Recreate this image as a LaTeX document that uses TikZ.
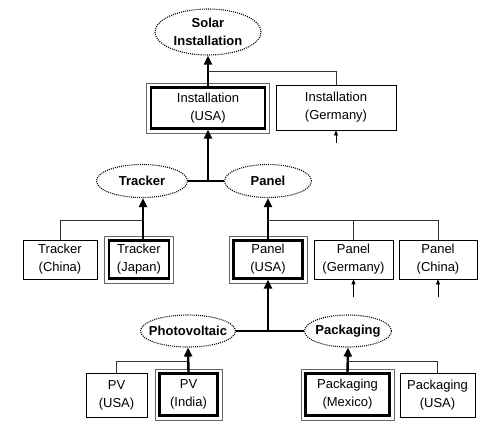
\documentclass[tikz,border=0pt]{standalone}
\usepackage{fontspec}
\setmainfont{Liberation Sans}
\usetikzlibrary{shapes.geometric,arrows.meta}

\begin{document}
\begin{tikzpicture}[x=1pt,y=-1pt,
  every node/.style={font=\fontsize{13}{18}\selectfont, align=center},
  groupnode/.style={ellipse, draw, line width=1.1pt, dash pattern=on 1pt off 1.1pt,
    inner xsep=-20pt, inner ysep=0pt, font=\fontsize{13}{18}\selectfont\bfseries},
  sitebox/.style={rectangle, draw, line width=0.7pt, fill=white, inner sep=0pt},
  keybox/.style={rectangle, draw, fill=white, line width=2.3pt, inner sep=0pt,
    append after command={\pgfextra{\draw[black!60, line width=0.7pt]
      ([xshift=-3.4pt,yshift=3.4pt]\tikzlastnode.north west) rectangle
      ([xshift=3.4pt,yshift=-3.4pt]\tikzlastnode.south east);}}},
  mainarrow/.style={-{Triangle[length=9pt,width=8pt]}, line width=2.4pt},
  mainline/.style={line width=2.4pt},
  sideline/.style={line width=0.8pt, draw=black!80},
  inarrow/.style={-{Triangle[length=5pt,width=4pt]}, line width=0.7pt}]

\useasboundingbox (0,0) rectangle (494,423);

\node[groupnode, minimum width=106pt, minimum height=46pt] (solar) at (208,32) {Solar\\Installation};
\node[keybox, minimum width=114pt, minimum height=41pt] (instUSA) at (208,108) {Installation\\(USA)};
\node[sitebox, minimum width=120pt, minimum height=45pt] (instGer) at (336,107.5) {Installation\\(Germany)};

\coordinate (jInst) at (208,71);
\coordinate (instIn) at (336,143);
\draw[mainarrow] (instUSA.north) -- (solar.south);
\draw[sideline] (instGer.north) |- (jInst);
\draw[inarrow] (instIn) -- (instGer.south);


\node[groupnode, minimum width=91pt, minimum height=33pt] (tracker) at (142,181) {Tracker};
\node[groupnode, minimum width=87pt, minimum height=33pt] (panel) at (268,181) {Panel};

\coordinate (jParts) at (208,181);
\draw[mainline] (tracker.east) -- (panel.west);
\draw[mainarrow] (jParts) -- (instUSA.south);


\node[sitebox, minimum width=74pt, minimum height=39pt] (trChina) at (60,259.5) {Tracker\\(China)};
\node[keybox, minimum width=60pt, minimum height=38pt] (trJapan) at (139,259.5) {Tracker\\(Japan)};

\coordinate (trBase) at (143,240);
\coordinate (jTracker) at (143,220);
\draw[mainarrow] (trBase) -- (tracker.south -| trBase);
\draw[sideline] (trChina.north) |- (jTracker);


\node[keybox, minimum width=69pt, minimum height=38pt] (panelUSA) at (268,259.5) {Panel\\(USA)};
\node[sitebox, minimum width=79pt, minimum height=39pt] (panelGer) at (353.5,259.5) {Panel\\(Germany)};
\node[sitebox, minimum width=78pt, minimum height=39pt] (panelChina) at (438,259.5) {Panel\\(China)};

\coordinate (jPanel) at (268,220);
\coordinate (panelGerIn) at (353.5,297);
\coordinate (panelChinaIn) at (438,297);
\draw[mainarrow] (panelUSA.north) -- (panel.south);
\draw[sideline] (jPanel) -| (panelChina.north);
\draw[sideline] (panelGer.north) -- (panelGer.north |- jPanel);
\draw[inarrow] (panelGerIn) -- (panelGer.south);
\draw[inarrow] (panelChinaIn) -- (panelChina.south);


\node[groupnode, minimum width=95pt, minimum height=32pt] (pv) at (188,331) {Photovoltaic};
\node[groupnode, minimum width=87pt, minimum height=32pt] (pack) at (348,331) {Packaging};

\coordinate (jPanelParts) at (268,331);
\draw[mainline] (pv.east) -- (pack.west);
\draw[mainarrow] (jPanelParts) -- (panelUSA.south);


\node[sitebox, minimum width=61pt, minimum height=44pt] (pvUSA) at (116.5,395) {PV\\(USA)};
\node[keybox, minimum width=58pt, minimum height=42pt] (pvIndia) at (188.5,394.5) {PV\\(India)};
\node[keybox, minimum width=84pt, minimum height=42pt] (packMexico) at (347.5,394.5) {Packaging\\(Mexico)};
\node[sitebox, minimum width=75pt, minimum height=44pt] (packUSA) at (437.5,395) {Packaging\\(USA)};

\coordinate (jPV) at (188,361);
\coordinate (jPack) at (348,361);
\draw[mainarrow] (pvIndia.north) -- (pv.south);
\draw[sideline] (pvUSA.north) |- (jPV);
\draw[mainarrow] (packMexico.north) -- (pack.south);
\draw[sideline] (jPack) -| (packUSA.north);

\end{tikzpicture}
\end{document}
